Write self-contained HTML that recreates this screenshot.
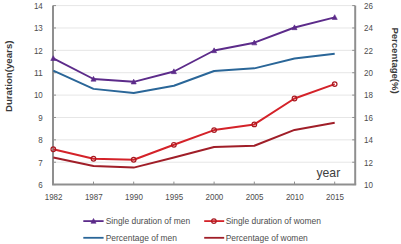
<!DOCTYPE html>
<html><head><meta charset="utf-8"><style>
html,body{margin:0;padding:0;background:#fff;width:401px;height:244px;overflow:hidden}
svg{display:block;font-family:"Liberation Sans",sans-serif}
</style></head><body>
<svg width="401" height="244" viewBox="0 0 401 244">
<rect width="401" height="244" fill="#fff"/>
<line x1="53" y1="5.60" x2="355.2" y2="5.60" stroke="#E6E6E6" stroke-width="1"/>
<line x1="53" y1="27.98" x2="355.2" y2="27.98" stroke="#E6E6E6" stroke-width="1"/>
<line x1="53" y1="50.35" x2="355.2" y2="50.35" stroke="#E6E6E6" stroke-width="1"/>
<line x1="53" y1="72.72" x2="355.2" y2="72.72" stroke="#E6E6E6" stroke-width="1"/>
<line x1="53" y1="95.10" x2="355.2" y2="95.10" stroke="#E6E6E6" stroke-width="1"/>
<line x1="53" y1="117.47" x2="355.2" y2="117.47" stroke="#E6E6E6" stroke-width="1"/>
<line x1="53" y1="139.85" x2="355.2" y2="139.85" stroke="#E6E6E6" stroke-width="1"/>
<line x1="53" y1="162.22" x2="355.2" y2="162.22" stroke="#E6E6E6" stroke-width="1"/>
<line x1="53" y1="5.6" x2="53" y2="184.6" stroke="#8F8F8F" stroke-width="2"/>
<line x1="355.2" y1="5.6" x2="355.2" y2="184.6" stroke="#8F8F8F" stroke-width="2"/>
<line x1="52" y1="184.6" x2="356.2" y2="184.6" stroke="#8F8F8F" stroke-width="2"/>
<line x1="53" y1="5.60" x2="56" y2="5.60" stroke="#8F8F8F" stroke-width="1"/>
<line x1="352.2" y1="5.60" x2="355.2" y2="5.60" stroke="#8F8F8F" stroke-width="1"/>
<line x1="53" y1="27.98" x2="56" y2="27.98" stroke="#8F8F8F" stroke-width="1"/>
<line x1="352.2" y1="27.98" x2="355.2" y2="27.98" stroke="#8F8F8F" stroke-width="1"/>
<line x1="53" y1="50.35" x2="56" y2="50.35" stroke="#8F8F8F" stroke-width="1"/>
<line x1="352.2" y1="50.35" x2="355.2" y2="50.35" stroke="#8F8F8F" stroke-width="1"/>
<line x1="53" y1="72.72" x2="56" y2="72.72" stroke="#8F8F8F" stroke-width="1"/>
<line x1="352.2" y1="72.72" x2="355.2" y2="72.72" stroke="#8F8F8F" stroke-width="1"/>
<line x1="53" y1="95.10" x2="56" y2="95.10" stroke="#8F8F8F" stroke-width="1"/>
<line x1="352.2" y1="95.10" x2="355.2" y2="95.10" stroke="#8F8F8F" stroke-width="1"/>
<line x1="53" y1="117.47" x2="56" y2="117.47" stroke="#8F8F8F" stroke-width="1"/>
<line x1="352.2" y1="117.47" x2="355.2" y2="117.47" stroke="#8F8F8F" stroke-width="1"/>
<line x1="53" y1="139.85" x2="56" y2="139.85" stroke="#8F8F8F" stroke-width="1"/>
<line x1="352.2" y1="139.85" x2="355.2" y2="139.85" stroke="#8F8F8F" stroke-width="1"/>
<line x1="53" y1="162.22" x2="56" y2="162.22" stroke="#8F8F8F" stroke-width="1"/>
<line x1="352.2" y1="162.22" x2="355.2" y2="162.22" stroke="#8F8F8F" stroke-width="1"/>
<line x1="53" y1="184.60" x2="56" y2="184.60" stroke="#8F8F8F" stroke-width="1"/>
<line x1="352.2" y1="184.60" x2="355.2" y2="184.60" stroke="#8F8F8F" stroke-width="1"/>
<line x1="53.30" y1="181.6" x2="53.30" y2="184.6" stroke="#8F8F8F" stroke-width="1"/>
<line x1="93.50" y1="181.6" x2="93.50" y2="184.6" stroke="#8F8F8F" stroke-width="1"/>
<line x1="133.70" y1="181.6" x2="133.70" y2="184.6" stroke="#8F8F8F" stroke-width="1"/>
<line x1="173.90" y1="181.6" x2="173.90" y2="184.6" stroke="#8F8F8F" stroke-width="1"/>
<line x1="214.10" y1="181.6" x2="214.10" y2="184.6" stroke="#8F8F8F" stroke-width="1"/>
<line x1="254.30" y1="181.6" x2="254.30" y2="184.6" stroke="#8F8F8F" stroke-width="1"/>
<line x1="294.50" y1="181.6" x2="294.50" y2="184.6" stroke="#8F8F8F" stroke-width="1"/>
<line x1="334.70" y1="181.6" x2="334.70" y2="184.6" stroke="#8F8F8F" stroke-width="1"/>
<text x="42.8" y="8.90" text-anchor="end" font-size="8.9" textLength="8.91" lengthAdjust="spacingAndGlyphs" fill="#4D4D4D">14</text>
<text x="364" y="8.90" font-size="8.9" textLength="8.91" lengthAdjust="spacingAndGlyphs" fill="#4D4D4D">26</text>
<text x="42.8" y="31.28" text-anchor="end" font-size="8.9" textLength="8.91" lengthAdjust="spacingAndGlyphs" fill="#4D4D4D">13</text>
<text x="364" y="31.28" font-size="8.9" textLength="8.91" lengthAdjust="spacingAndGlyphs" fill="#4D4D4D">24</text>
<text x="42.8" y="53.65" text-anchor="end" font-size="8.9" textLength="8.91" lengthAdjust="spacingAndGlyphs" fill="#4D4D4D">12</text>
<text x="364" y="53.65" font-size="8.9" textLength="8.91" lengthAdjust="spacingAndGlyphs" fill="#4D4D4D">22</text>
<text x="42.8" y="76.02" text-anchor="end" font-size="8.9" textLength="8.91" lengthAdjust="spacingAndGlyphs" fill="#4D4D4D">11</text>
<text x="364" y="76.02" font-size="8.9" textLength="8.91" lengthAdjust="spacingAndGlyphs" fill="#4D4D4D">20</text>
<text x="42.8" y="98.40" text-anchor="end" font-size="8.9" textLength="8.91" lengthAdjust="spacingAndGlyphs" fill="#4D4D4D">10</text>
<text x="364" y="98.40" font-size="8.9" textLength="8.91" lengthAdjust="spacingAndGlyphs" fill="#4D4D4D">18</text>
<text x="42.8" y="120.77" text-anchor="end" font-size="8.9" textLength="4.45" lengthAdjust="spacingAndGlyphs" fill="#4D4D4D">9</text>
<text x="364" y="120.77" font-size="8.9" textLength="8.91" lengthAdjust="spacingAndGlyphs" fill="#4D4D4D">16</text>
<text x="42.8" y="143.15" text-anchor="end" font-size="8.9" textLength="4.45" lengthAdjust="spacingAndGlyphs" fill="#4D4D4D">8</text>
<text x="364" y="143.15" font-size="8.9" textLength="8.91" lengthAdjust="spacingAndGlyphs" fill="#4D4D4D">14</text>
<text x="42.8" y="165.53" text-anchor="end" font-size="8.9" textLength="4.45" lengthAdjust="spacingAndGlyphs" fill="#4D4D4D">7</text>
<text x="364" y="165.53" font-size="8.9" textLength="8.91" lengthAdjust="spacingAndGlyphs" fill="#4D4D4D">12</text>
<text x="42.8" y="187.90" text-anchor="end" font-size="8.9" textLength="4.45" lengthAdjust="spacingAndGlyphs" fill="#4D4D4D">6</text>
<text x="364" y="187.90" font-size="8.9" textLength="8.91" lengthAdjust="spacingAndGlyphs" fill="#4D4D4D">10</text>
<text x="53.60" y="199.8" text-anchor="middle" font-size="8.9" textLength="17.81" lengthAdjust="spacingAndGlyphs" fill="#4D4D4D">1982</text>
<text x="93.80" y="199.8" text-anchor="middle" font-size="8.9" textLength="17.81" lengthAdjust="spacingAndGlyphs" fill="#4D4D4D">1987</text>
<text x="134.00" y="199.8" text-anchor="middle" font-size="8.9" textLength="17.81" lengthAdjust="spacingAndGlyphs" fill="#4D4D4D">1990</text>
<text x="174.20" y="199.8" text-anchor="middle" font-size="8.9" textLength="17.81" lengthAdjust="spacingAndGlyphs" fill="#4D4D4D">1995</text>
<text x="214.40" y="199.8" text-anchor="middle" font-size="8.9" textLength="17.81" lengthAdjust="spacingAndGlyphs" fill="#4D4D4D">2000</text>
<text x="254.60" y="199.8" text-anchor="middle" font-size="8.9" textLength="17.81" lengthAdjust="spacingAndGlyphs" fill="#4D4D4D">2005</text>
<text x="294.80" y="199.8" text-anchor="middle" font-size="8.9" textLength="17.81" lengthAdjust="spacingAndGlyphs" fill="#4D4D4D">2010</text>
<text x="335.00" y="199.8" text-anchor="middle" font-size="8.9" textLength="17.81" lengthAdjust="spacingAndGlyphs" fill="#4D4D4D">2015</text>
<polyline points="53.30,70.70 93.50,88.90 133.70,93.00 173.90,85.75 214.10,71.00 254.30,68.30 294.50,58.50 334.70,53.80" fill="none" stroke="#2A6698" stroke-width="1.9" stroke-linejoin="round"/>
<polyline points="53.30,157.50 93.50,165.90 133.70,167.60 173.90,157.50 214.10,147.00 254.30,145.80 294.50,129.90 334.70,122.80" fill="none" stroke="#A01E28" stroke-width="2" stroke-linejoin="round"/>
<polyline points="53.30,149.25 93.50,158.75 133.70,159.75 173.90,144.80 214.10,130.10 254.30,124.40 294.50,98.50 334.70,84.10" fill="none" stroke="#D42229" stroke-width="2" stroke-linejoin="round"/>
<polyline points="53.30,58.30 93.50,79.00 133.70,81.80 173.90,71.50 214.10,50.50 254.30,42.70 294.50,27.50 334.70,17.30" fill="none" stroke="#5C2B8A" stroke-width="1.9" stroke-linejoin="round"/>
<path d="M53.30,55.66 L55.85,60.46 L50.75,60.46 Z" fill="#5C2B8A" stroke="#5C2B8A" stroke-width="0.6"/>
<path d="M93.50,76.36 L96.05,81.16 L90.95,81.16 Z" fill="#5C2B8A" stroke="#5C2B8A" stroke-width="0.6"/>
<path d="M133.70,79.16 L136.25,83.96 L131.15,83.96 Z" fill="#5C2B8A" stroke="#5C2B8A" stroke-width="0.6"/>
<path d="M173.90,68.86 L176.45,73.66 L171.35,73.66 Z" fill="#5C2B8A" stroke="#5C2B8A" stroke-width="0.6"/>
<path d="M214.10,47.86 L216.65,52.66 L211.55,52.66 Z" fill="#5C2B8A" stroke="#5C2B8A" stroke-width="0.6"/>
<path d="M254.30,40.06 L256.85,44.86 L251.75,44.86 Z" fill="#5C2B8A" stroke="#5C2B8A" stroke-width="0.6"/>
<path d="M294.50,24.86 L297.05,29.66 L291.95,29.66 Z" fill="#5C2B8A" stroke="#5C2B8A" stroke-width="0.6"/>
<path d="M334.70,14.66 L337.25,19.46 L332.15,19.46 Z" fill="#5C2B8A" stroke="#5C2B8A" stroke-width="0.6"/>
<circle cx="53.30" cy="149.25" r="2.3" fill="none" stroke="#A81A22" stroke-width="1.2"/>
<circle cx="93.50" cy="158.75" r="2.3" fill="none" stroke="#A81A22" stroke-width="1.2"/>
<circle cx="133.70" cy="159.75" r="2.3" fill="none" stroke="#A81A22" stroke-width="1.2"/>
<circle cx="173.90" cy="144.80" r="2.3" fill="none" stroke="#A81A22" stroke-width="1.2"/>
<circle cx="214.10" cy="130.10" r="2.3" fill="none" stroke="#A81A22" stroke-width="1.2"/>
<circle cx="254.30" cy="124.40" r="2.3" fill="none" stroke="#A81A22" stroke-width="1.2"/>
<circle cx="294.50" cy="98.50" r="2.3" fill="none" stroke="#A81A22" stroke-width="1.2"/>
<circle cx="334.70" cy="84.10" r="2.3" fill="none" stroke="#A81A22" stroke-width="1.2"/>
<text x="316.5" y="176.9" font-size="12.2" fill="#404040">year</text>
<text transform="translate(11.8,112.1) rotate(-90)" font-size="9.7" font-weight="bold" fill="#3A3A3A">Duration(years)</text>
<text transform="translate(391.8,27.4) rotate(90)" font-size="9.55" font-weight="bold" fill="#3A3A3A">Percentage(%)</text>
<line x1="83.3" y1="221.1" x2="103.6" y2="221.1" stroke="#5C2B8A" stroke-width="1.8"/>
<path d="M93.50,218.46 L96.05,223.26 L90.95,223.26 Z" fill="#5C2B8A" stroke="#5C2B8A" stroke-width="0.6"/>
<text x="105.7" y="223.9" font-size="8.45" fill="#4D4D4D">Single duration of men</text>
<line x1="83.3" y1="237.8" x2="103.6" y2="237.8" stroke="#2A6698" stroke-width="1.8"/>
<text x="105.7" y="240.7" font-size="8.45" fill="#4D4D4D">Percentage of men</text>
<line x1="204.2" y1="221.1" x2="224.2" y2="221.1" stroke="#D42229" stroke-width="1.8"/>
<circle cx="213.90" cy="221.10" r="2.3" fill="none" stroke="#A81A22" stroke-width="1.2"/>
<text x="225.7" y="223.9" font-size="8.45" fill="#4D4D4D">Single duration of women</text>
<line x1="204.2" y1="237.8" x2="224.2" y2="237.8" stroke="#A01E28" stroke-width="1.8"/>
<text x="225.7" y="240.7" font-size="8.45" fill="#4D4D4D">Percentage of women</text>
</svg>
</body></html>
